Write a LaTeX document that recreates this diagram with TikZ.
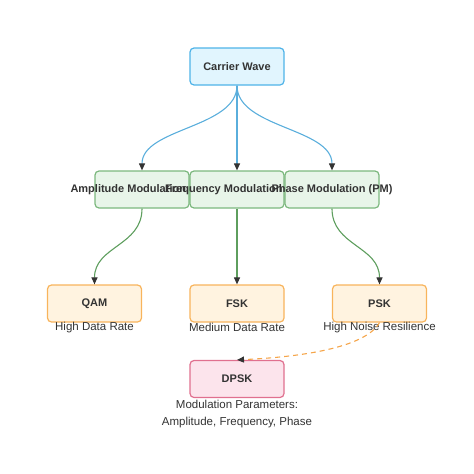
\documentclass[tikz,border=0pt]{standalone}
\usepackage{fontspec}
\setmainfont{Liberation Sans}
\usetikzlibrary{arrows.meta}
\definecolor{txt}{HTML}{333333}
\definecolor{bluefill}{HTML}{E1F5FE}
\definecolor{blueline}{HTML}{4FB3E8}
\definecolor{greenfill}{HTML}{E8F5E9}
\definecolor{greenline}{HTML}{7CB87E}
\definecolor{orangefill}{HTML}{FFF3E0}
\definecolor{orangeline}{HTML}{F8B45C}
\definecolor{pinkfill}{HTML}{FCE4EC}
\definecolor{pinkline}{HTML}{E0708F}
\definecolor{edgeblue}{HTML}{5AAEDC}
\definecolor{edgegreen}{HTML}{5E9E5E}
\definecolor{edgeorange}{HTML}{F5A54A}
\tikzset{
  boxbase/.style={rectangle, rounded corners=4pt, line width=1.2pt, minimum width=94pt, minimum height=37pt, inner sep=0pt},
  bluebox/.style={boxbase, draw=blueline, fill=bluefill},
  greenbox/.style={boxbase, draw=greenline, fill=greenfill},
  orangebox/.style={boxbase, draw=orangeline, fill=orangefill},
  pinkbox/.style={boxbase, draw=pinkline, fill=pinkfill},
  boxlabel/.style={text=txt, font=\fontsize{11}{13}\selectfont\bfseries, inner sep=0pt},
  note/.style={text=txt, font=\fontsize{11.5}{13.5}\selectfont, inner sep=0pt},
  tip/.style={-{Triangle[width=6pt,length=7pt,color=txt,fill=txt]}},
  bluearrow/.style={color=edgeblue, tip, line width=1.1pt},
  greenarrow/.style={color=edgegreen, tip, line width=1.1pt},
  orangearrow/.style={color=edgeorange, tip, line width=1.1pt, dash pattern=on 5pt off 4pt},
}
\begin{document}
\begin{tikzpicture}[x=1pt,y=-1pt]
\useasboundingbox (0,0) rectangle (474,474);
% boxes, each followed by its label
\node[bluebox] (cw) at (237,66.5) {};
\node[boxlabel] (cwl) at (cw) {Carrier Wave};
\node[greenbox] (am) at (142,189.5) {};
\node[boxlabel] (aml) at (am) {Amplitude Modulation (AM)};
\node[greenbox] (fm) at (237,189.5) {};
\node[boxlabel] (fml) at (fm) {Frequency Modulation (FM)};
\node[greenbox] (pm) at (332,189.5) {};
\node[boxlabel] (pml) at (pm) {Phase Modulation (PM)};
\node[orangebox] (qam) at (94.5,303.5) {};
\node[boxlabel] (qaml) at (qam) {QAM};
\node[orangebox] (fsk) at (237,303.5) {};
\node[boxlabel] (fskl) at (fsk) {FSK};
\node[orangebox] (psk) at (379.5,303.5) {};
\node[boxlabel] (pskl) at (psk) {PSK};
\node[pinkbox] (dpsk) at (237,379) {};
\node[boxlabel] (dpskl) at (dpsk) {DPSK};
% notes
\node[note] (n1) at (94.5,327.5) {High Data Rate};
\node[note] (n2) at (237,327.5) {Medium Data Rate};
\node[note] (n3) at (379.5,327.5) {High Noise Resilience};
\node[note] (n4) at (237,404.5) {Modulation Parameters:};
\node[note] (n5) at (237,422.5) {Amplitude, Frequency, Phase};
% connectors
\draw[bluearrow] (cw.south) .. controls (237,128) and (142,128) .. (am.north);
\draw[bluearrow] (cw.south) -- (fm.north);
\draw[bluearrow] (cw.south) .. controls (237,128) and (332,128) .. (pm.north);
\draw[greenarrow] (am.south) .. controls (142,246) and (94.5,246) .. (qam.north);
\draw[greenarrow] (fm.south) -- (fsk.north);
\draw[greenarrow] (pm.south) .. controls (332,246) and (379.5,246) .. (psk.north);
\draw[orangearrow] (psk.south) .. controls (365,348) and (300,357) .. (dpsk.north);
\end{tikzpicture}
\end{document}
